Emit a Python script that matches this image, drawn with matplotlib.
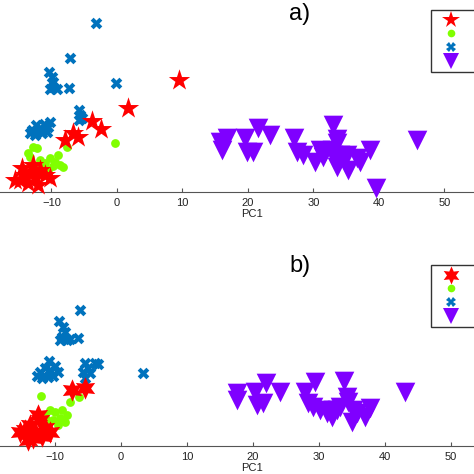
import matplotlib
matplotlib.use("Agg")
import matplotlib.pyplot as plt
from matplotlib.lines import Line2D

plt.rcParams["font.family"] = ["Liberation Sans", "DejaVu Sans"]

# colours of the four groups
RED = "#ff0000"
GREEN = "#80ff00"
BLUE = "#0072bd"
PURPLE = "#7f00ff"

# ---- panel a) ----
a_red_x = [9.5, 1.7, -3.8, -2.4, -6.7, -6.0, -7.9, -14.8, -14.0, -13.3, -13.6,
           -12.5, -11.8, -11.0, -12.1, -15.6, -10.2, -14.5, -12.8]
a_red_y = [5.1, 0.8, -1.2, -2.4, -3.0, -3.6, -4.1, -10.2, -9.4, -8.9, -10.6,
           -9.9, -8.6, -9.4, -10.9, -10.2, -9.9, -8.3, -7.9]
a_green_x = [-0.3, -7.6, -12.8, -12.2, -13.6, -13.3, -11.8, -11.0, -10.2, -9.5,
             -9.0, -8.7, -8.2, -11.5, -10.5, -9.8, -12.1]
a_green_y = [-4.5, -5.1, -5.1, -5.3, -6.0, -6.7, -7.1, -7.6, -6.8, -7.4,
             -6.4, -7.9, -8.2, -8.3, -8.6, -8.0, -7.9]
a_blue_x = [-3.2, -7.2, -0.2, -10.4, -9.9, -9.8, -9.8, -9.2, -10.2, -7.3,
            -5.8, -5.6, -5.8, -5.3, -13.0, -12.4, -11.8, -11.1, -10.5, -10.2,
            -12.5, -11.5, -10.7, -12.1, -13.3]
a_blue_y = [13.8, 8.5, 4.6, 6.3, 5.6, 4.8, 4.0, 3.7, 3.7, 3.9,
            0.5, -0.2, -1.0, -0.7, -2.5, -1.8, -2.2, -1.6, -2.1, -1.3,
            -3.3, -3.0, -2.8, -2.5, -3.0]
a_purple_x = [21.5, 23.4, 16.8, 15.7, 16.0, 19.5, 19.8, 20.8, 27.0, 27.5,
              28.4, 30.2, 33.0, 33.6, 33.6, 31.0, 31.8, 31.5, 32.8, 33.0,
              34.0, 35.1, 33.6, 35.3, 36.6, 37.1, 38.6, 45.8, 39.5, 34.5]
a_purple_y = [-2.2, -3.3, -3.8, -4.4, -5.6, -3.8, -5.9, -5.9, -3.8, -5.9,
              -6.4, -7.4, -1.8, -3.9, -4.5, -5.6, -5.9, -6.7, -5.6, -6.4,
              -6.4, -6.4, -8.2, -8.6, -6.8, -7.4, -5.6, -4.1, -11.4, -6.8]

# ---- panel b) ----
b_red_x = [-7.4, -5.5, -14.5, -13.8, -13.0, -12.3, -11.5, -13.3, -10.8, -15.3,
           -12.6, -14.1, -12.0]
b_red_y = [-3.5, -3.2, -9.6, -8.8, -9.9, -8.1, -9.3, -10.8, -9.9, -9.9,
           -7.3, -11.1, -10.5]
b_green_x = [-12.1, -7.7, -6.4, -11.5, -10.8, -10.0, -9.2, -8.9, -8.2, -11.2,
             -10.3, -9.5, -12.3, -8.5]
b_green_y = [-4.4, -5.3, -4.6, -7.3, -6.5, -6.8, -7.8, -6.5, -7.3, -8.1,
             -8.1, -8.8, -7.8, -8.4]
b_blue_x = [-6.2, -9.4, -8.8, -8.5, -8.9, -9.2, -8.2, -7.7, -6.5, -10.9,
            -12.3, -11.5, -10.8, -10.0, -9.5, -12.0, -11.1, -10.3, -12.7,
            -5.5, -5.0, -3.9, -3.5, -5.8, -5.5, -4.7, 3.3]
b_blue_y = [8.6, 6.9, 6.0, 5.3, 4.5, 4.1, 4.1, 4.2, 4.4, 0.9,
            -0.8, -0.2, -0.5, 0.1, -0.8, -1.7, -1.5, -1.4, -1.4,
            0.6, -0.2, 0.6, 0.4, -0.8, -1.7, -0.9, -0.9]
b_purple_x = [17.6, 17.6, 20.3, 22.0, 24.1, 20.6, 21.5, 29.4, 27.9, 28.3,
              29.1, 30.2, 31.2, 32.0, 33.8, 34.2, 34.4, 33.2, 32.7, 35.2,
              35.8, 35.0, 37.7, 37.0, 43.0, 32.1]
b_purple_y = [-4.0, -5.0, -3.8, -2.5, -3.8, -5.8, -5.5, -2.3, -3.8, -5.5,
              -6.1, -6.5, -7.0, -7.6, -2.2, -4.6, -5.3, -6.1, -6.5, -6.5,
              -7.0, -8.4, -6.2, -7.6, -3.8, -6.5]

xticks = [-10, 0, 10, 20, 30, 40, 50]

W = H = 474.0
fig = plt.figure(figsize=(4.74, 4.74), dpi=100)


def make_panel(rect, xlim, ylim, reds, greens, blues, purples, star, title,
               title_y, leg_top):
    ax = fig.add_axes(rect)
    ax.scatter(*reds, marker=star, s=260, c=RED, linewidths=0, zorder=3,
               clip_on=False)
    ax.scatter(*greens, marker="o", s=40, c=GREEN, linewidths=0, zorder=2)
    ax.scatter(*blues, marker="X", s=70, c=BLUE, linewidths=0, zorder=1)
    ax.scatter(*purples, marker="v", s=200, c=PURPLE, linewidths=0, zorder=4,
               clip_on=False)
    ax.set_xlim(*xlim)
    ax.set_ylim(*ylim)
    for side in ("top", "left", "right"):
        ax.spines[side].set_visible(False)
    ax.spines["bottom"].set_color("#555555")
    ax.set_xticks(xticks)
    ax.set_yticks([])
    ax.tick_params(axis="x", direction="in", length=3, color="#555555",
                   labelsize=8, pad=4, labelcolor="#222222")
    ax.set_xlabel("PC1", fontsize=8, labelpad=1, color="#222222")
    fig.text(300 / W, 1 - title_y / H, title, fontsize=17, ha="center",
             va="center")

    handles = [
        Line2D([], [], ls="", marker=star, ms=13, color=RED, mew=0),
        Line2D([], [], ls="", marker="o", ms=5.5, color=GREEN, mew=0),
        Line2D([], [], ls="", marker="X", ms=6.5, color=BLUE, mew=0),
        Line2D([], [], ls="", marker="v", ms=11, color=PURPLE, mew=0),
    ]
    leg = fig.legend(handles, [" "] * 4, loc="upper left",
                     bbox_to_anchor=(431 / W, 1 - leg_top / H),
                     borderaxespad=0, fontsize=8, labelspacing=0.33,
                     borderpad=0.5, handlelength=2.6, handletextpad=3,
                     fancybox=False, framealpha=1)
    leg.get_frame().set_edgecolor("#333333")
    leg.get_frame().set_linewidth(1.0)
    return ax


# top panel: x=0 at 117 px, 6.55 px per unit, axis line at y=192 px
make_panel([-20 / W, 1 - 192 / H, 544 / W, 192 / H],
           ((-20 - 117) / 6.55, (524 - 117) / 6.55), (-12, 192 / 6.55 - 12),
           (a_red_x, a_red_y), (a_green_x, a_green_y),
           (a_blue_x, a_blue_y), (a_purple_x, a_purple_y),
           "*", "a)", 14, 10)

# bottom panel: x=0 at 121 px, 6.6 px per unit, axis line at y=446 px
make_panel([-20 / W, 1 - 446 / H, 544 / W, 196 / H],
           ((-20 - 121) / 6.6, (524 - 121) / 6.6), (-12, 196 / 6.6 - 12),
           (b_red_x, b_red_y), (b_green_x, b_green_y),
           (b_blue_x, b_blue_y), (b_purple_x, b_purple_y),
           (6, 1, 0), "b)", 266, 265)

fig.savefig("out.png", dpi=100)
